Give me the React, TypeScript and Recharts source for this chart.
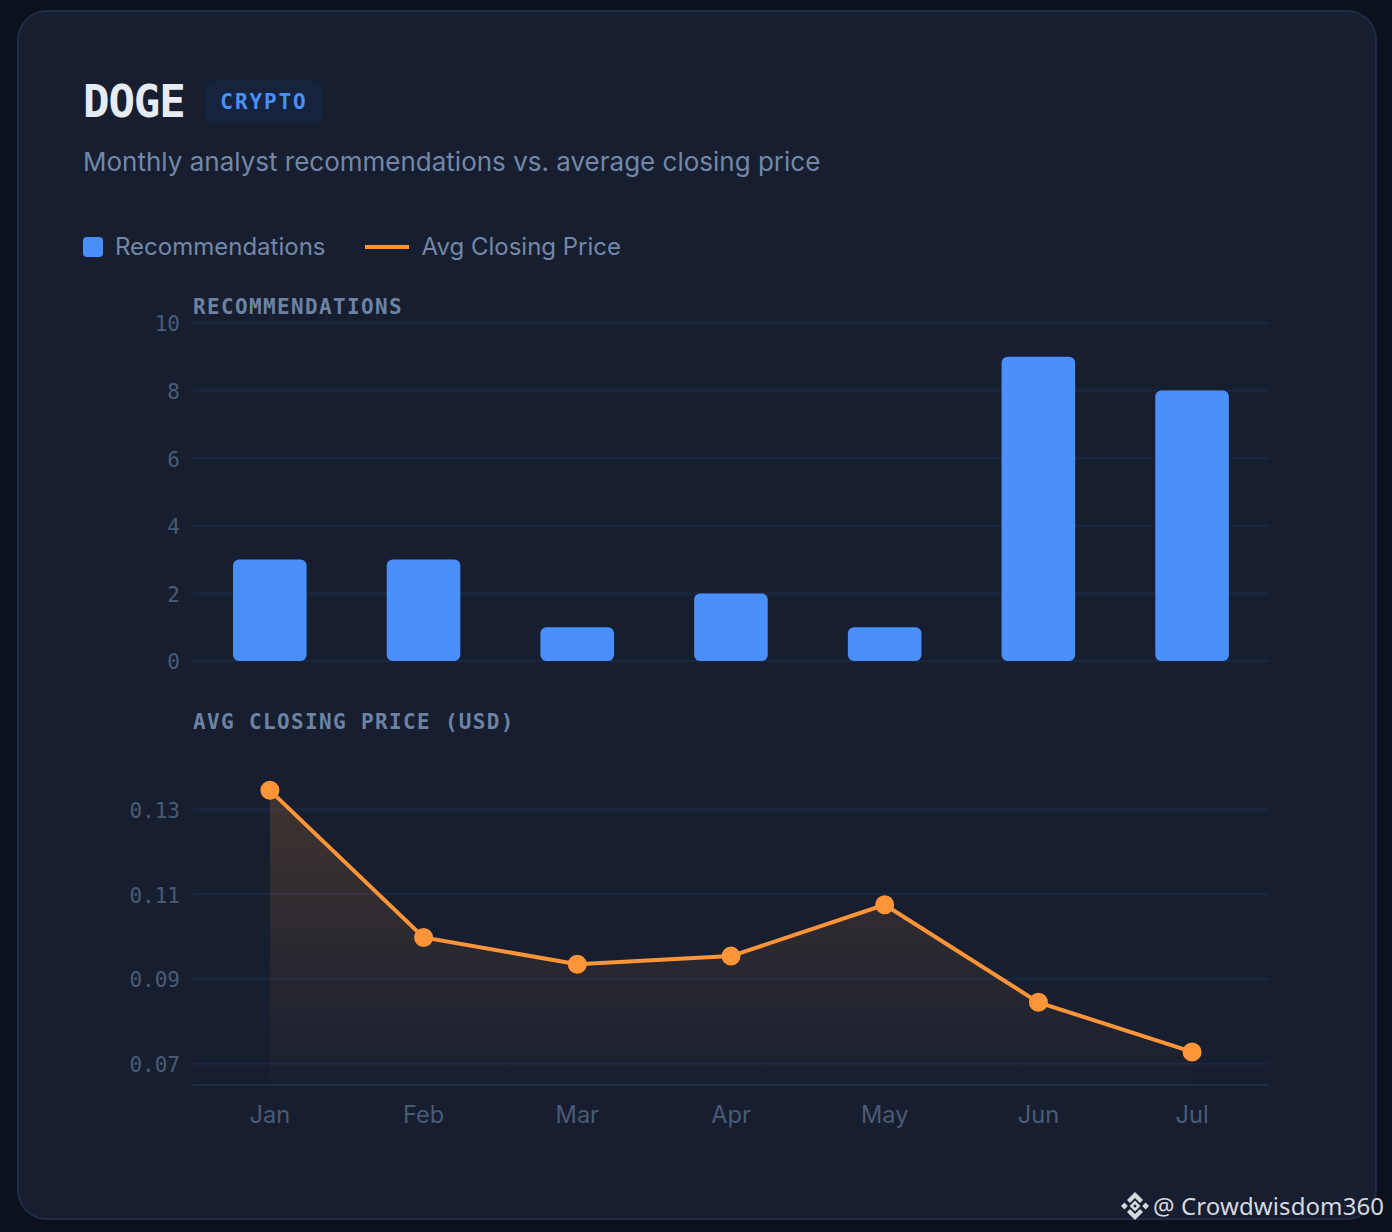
import * as React from "react";
import {
  Area,
  AreaChart,
  Bar,
  BarChart,
  CartesianGrid,
  XAxis,
  YAxis
} from "recharts";

const MONTHS = ["Jan", "Feb", "Mar", "Apr", "May", "Jun", "Jul"];
const RECOMMENDATIONS = [3, 3, 1, 2, 1, 9, 8];
const AVG_CLOSE = [0.1345, 0.0998, 0.0935, 0.0954, 0.1075, 0.0845, 0.0728];
const REC_TICKS = [0, 2, 4, 6, 8, 10];
const PRICE_TICKS = [0.07, 0.09, 0.11, 0.13];

const rows = MONTHS.map((month, i) => ({
  month,
  recs: RECOMMENDATIONS[i],
  price: AVG_CLOSE[i]
}));

const MONO = '"DejaVu Sans Mono", monospace';
const SANS = 'Inter, "Noto Sans", sans-serif';
const BLUE = "#4a8ffb";
const ORANGE = "#ff9538";
const GRID = "#1a2743";
const TICK = { fill: "#4a5b76", fontSize: 21, fontFamily: MONO, dy: 1 };

const heading: React.CSSProperties = {
  position: "absolute",
  left: 193,
  fontFamily: MONO,
  fontWeight: 700,
  fontSize: 21,
  letterSpacing: 1.35,
  color: "#6d83a3",
  lineHeight: "26px",
  whiteSpace: "nowrap"
};

export default function App() {
  return (
    <div
      style={{
        position: "absolute",
        left: 0,
        top: 0,
        width: 1392,
        height: 1232,
        overflow: "hidden",
        background: "#0b121e"
      }}
    >
      <div
        style={{
          position: "absolute",
          left: 17,
          top: 10,
          width: 1356,
          height: 1206,
          background: "#161e2f",
          border: "2px solid #1e2c44",
          borderRadius: 30
        }}
      />

      <div
        style={{
          position: "absolute",
          left: 83,
          top: 75,
          fontFamily: MONO,
          fontWeight: 700,
          fontSize: 44,
          letterSpacing: -1.1,
          lineHeight: "54px",
          color: "#e6ebf4"
        }}
      >
        DOGE
      </div>
      <div
        style={{
          position: "absolute",
          left: 205,
          top: 81,
          width: 118,
          height: 41,
          borderRadius: 8,
          background: "#15233d",
          color: BLUE,
          fontFamily: MONO,
          fontWeight: 700,
          fontSize: 21,
          letterSpacing: 1.9,
          lineHeight: "43px",
          textAlign: "center"
        }}
      >
        CRYPTO
      </div>
      <div
        style={{
          position: "absolute",
          left: 83,
          top: 145,
          fontFamily: SANS,
          fontSize: 26,
          lineHeight: "34px",
          color: "#7388a8",
          whiteSpace: "nowrap"
        }}
      >
        Monthly analyst recommendations vs. average closing price
      </div>

      <div style={{ position: "absolute", left: 83, top: 237, width: 20, height: 20, borderRadius: 4, background: BLUE }} />
      <div style={{ position: "absolute", left: 115, top: 231, fontFamily: SANS, fontSize: 24, lineHeight: "32px", color: "#7388a8", whiteSpace: "nowrap" }}>
        Recommendations
      </div>
      <div style={{ position: "absolute", left: 365, top: 245, width: 44, height: 4, background: ORANGE }} />
      <div style={{ position: "absolute", left: 421.5, top: 231, fontFamily: SANS, fontSize: 24, lineHeight: "32px", color: "#7388a8", whiteSpace: "nowrap" }}>
        Avg Closing Price
      </div>

      <div style={{ ...heading, top: 294 }}>RECOMMENDATIONS</div>
      <div style={{ ...heading, top: 709 }}>AVG CLOSING PRICE (USD)</div>

      <div style={{ position: "absolute", left: 80, top: 300 }}>
        <BarChart
          width={1200}
          height={381}
          data={rows}
          margin={{ top: 23, right: 11, bottom: 20, left: 0 }}
        >
          <CartesianGrid stroke={GRID} strokeWidth={2} vertical={false} horizontalValues={REC_TICKS} />
          <XAxis dataKey="month" hide />
          <YAxis
            width={113}
            domain={[0, 10]}
            ticks={REC_TICKS}
            interval={0}
            tick={TICK}
            tickLine={false}
            axisLine={false}
            tickMargin={7}
          />
          <Bar dataKey="recs" fill={BLUE} barSize={73.6} radius={6} isAnimationActive={false} />
        </BarChart>
      </div>

      <div style={{ position: "absolute", left: 80, top: 740 }}>
        <AreaChart
          width={1200}
          height={405}
          data={rows}
          margin={{ top: 27, right: 11, bottom: 0, left: 0 }}
        >
          <defs>
            <linearGradient id="priceFill" x1="0" y1="0" x2="0" y2="1">
              <stop offset="0%" stopColor={ORANGE} stopOpacity={0.3} />
              <stop offset="100%" stopColor={ORANGE} stopOpacity={0.02} />
            </linearGradient>
          </defs>
          <CartesianGrid stroke={GRID} strokeWidth={2} vertical={false} horizontalValues={PRICE_TICKS} />
          <XAxis
            dataKey="month"
            height={60}
            padding={{ left: 76.9, right: 76.9 }}
            tick={{ fill: "#4a5b76", fontSize: 23.6, fontFamily: SANS }}
            tickLine={false}
            axisLine={{ stroke: "#1e2c44", strokeWidth: 2 }}
            tickMargin={15}
          />
          <YAxis
            width={113}
            domain={[0.065, 0.14]}
            ticks={PRICE_TICKS}
            interval={0}
            tickFormatter={(v: number) => v.toFixed(2)}
            tick={TICK}
            tickLine={false}
            axisLine={false}
            tickMargin={7}
          />
          <Area
            type="linear"
            dataKey="price"
            stroke={ORANGE}
            strokeWidth={4}
            fill="url(#priceFill)"
            dot={{ r: 8.5, fill: ORANGE, stroke: ORANGE, strokeWidth: 2, fillOpacity: 1 }}
            isAnimationActive={false}
          />
        </AreaChart>
      </div>

      <svg
        style={{ position: "absolute", left: 1121, top: 1192 }}
        width={28}
        height={28}
        viewBox="0 0 28 28"
        fill="#d5d9e0"
      >
        <path d="M14 0l8 8-3 3-5-5-5 5-3-3zM14 28l-8-8 3-3 5 5 5-5 3 3zM0 14l3.4-3.4L6.8 14l-3.4 3.4zM21.2 14l3.4-3.4L28 14l-3.4 3.4zM14 8.6l5.4 5.4-5.4 5.4L8.6 14zM14 12.2L12.2 14l1.8 1.8 1.8-1.8z" fillRule="evenodd" />
      </svg>
      <div
        style={{
          position: "absolute",
          left: 1153,
          top: 1189,
          fontFamily: '"Noto Sans", sans-serif',
          fontSize: 24,
          lineHeight: "34px",
          letterSpacing: 0.1,
          color: "#d5d9e0",
          whiteSpace: "nowrap"
        }}
      >
        @ Crowdwisdom360
      </div>
    </div>
  );
}
